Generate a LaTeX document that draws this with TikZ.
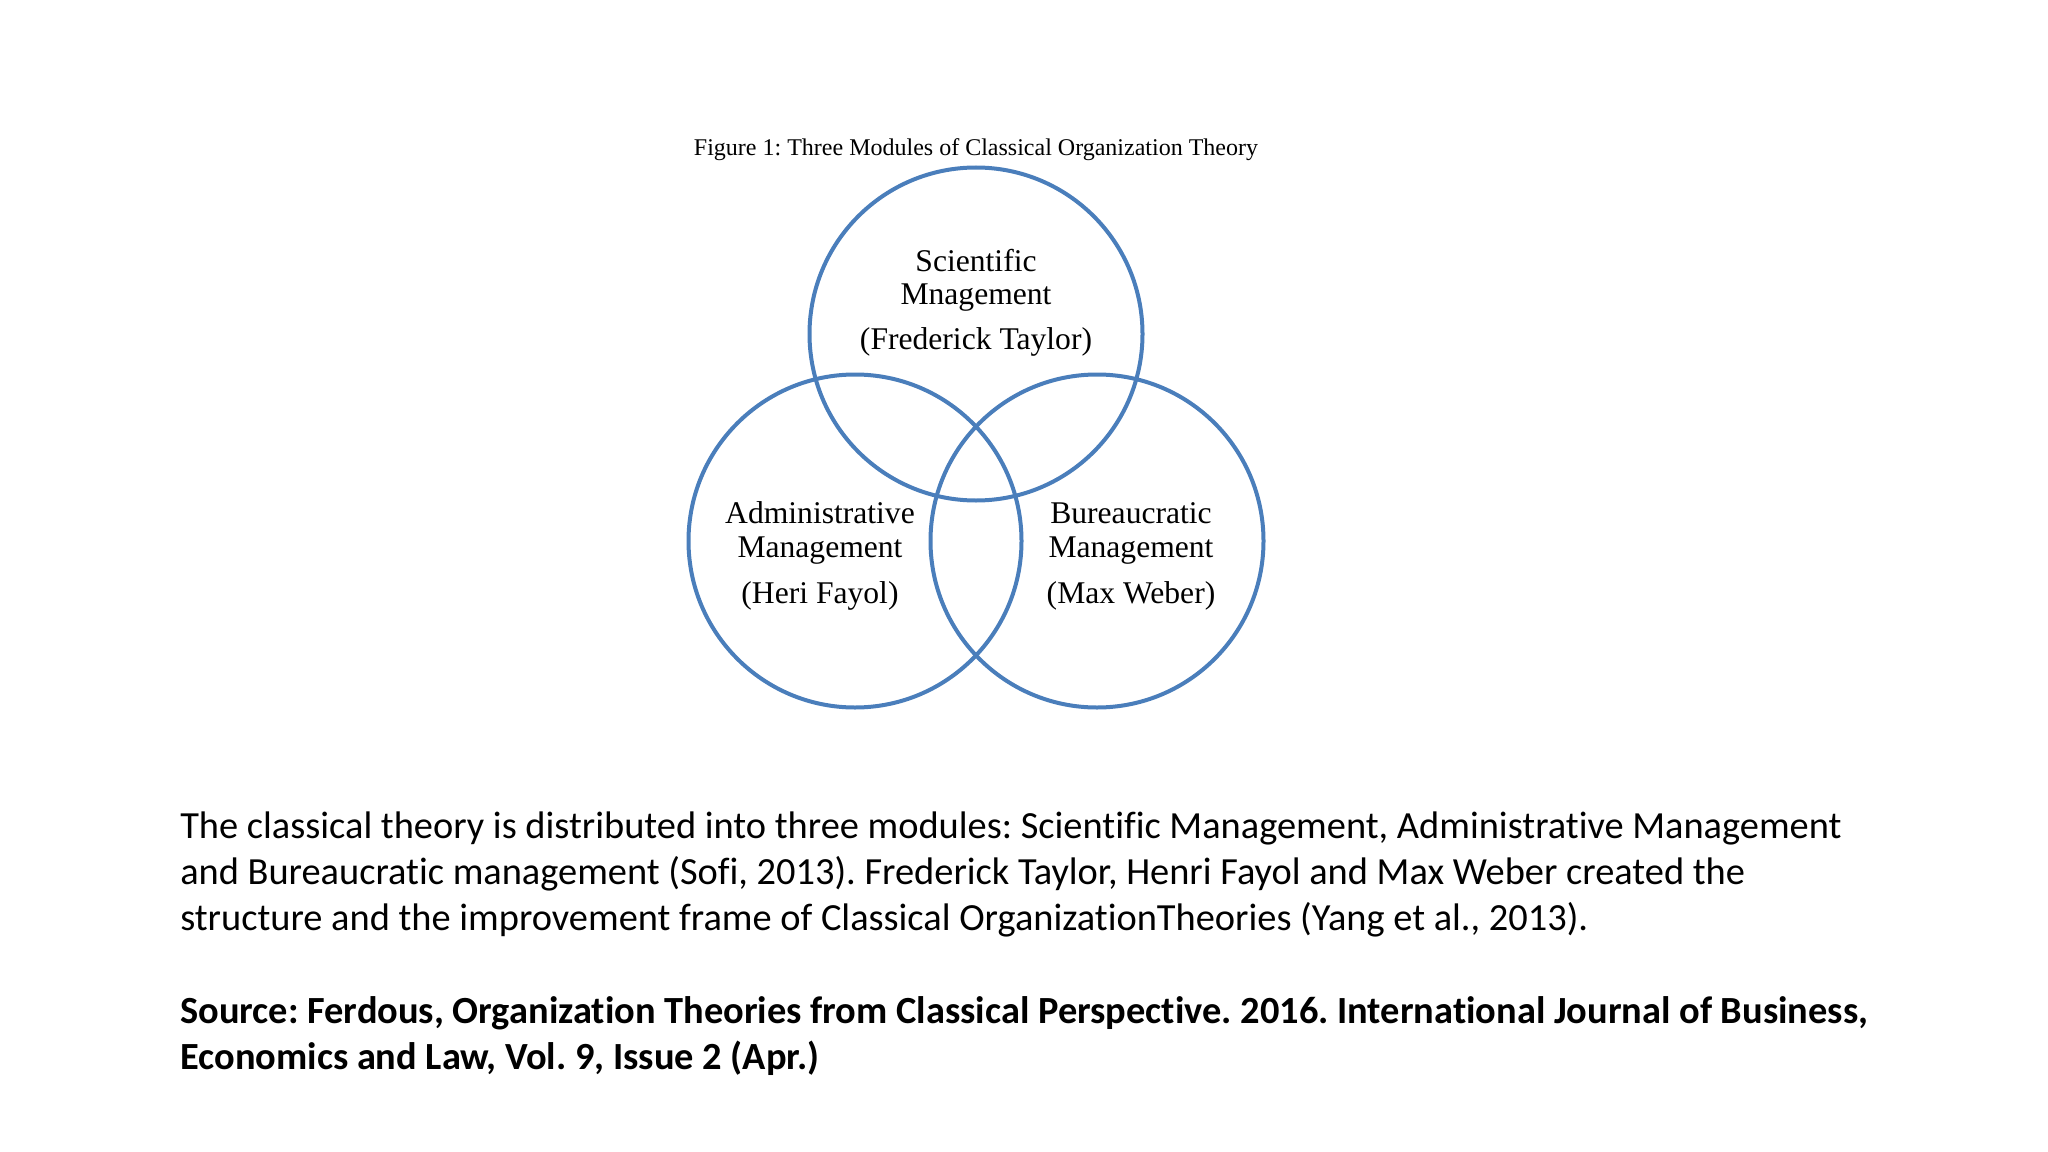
\documentclass[tikz,border=0pt]{standalone}
\usepackage{fontspec}
\setmainfont{Liberation Serif}
\newfontfamily\bodyfont[Ligatures={NoCommon}]{Carlito}
\definecolor{vennblue}{RGB}{74,126,187}
\frenchspacing
\begin{document}
\begin{tikzpicture}[x=0.75pt,y=-0.75pt,
  venn/.style={circle,draw=vennblue,line width=3pt,minimum size=249.75pt,inner sep=0pt},
  lab/.style={anchor=base,inner sep=0pt,font=\fontsize{23.7}{26}\selectfont},
  ttl/.style={anchor=base,inner sep=0pt,font=\fontsize{18}{20}\selectfont},
  body/.style={anchor=base west,inner sep=0pt,font=\bodyfont\fontsize{28.8}{34.5}\selectfont},
  bodyb/.style={body,font=\bodyfont\bfseries\fontsize{28.8}{34.5}\selectfont}]
\useasboundingbox[fill=white] (0,0) rectangle (2048,1152);
\node[ttl] (title) at (976,156) {Figure 1: Three Modules of Classical Organization Theory};
\node[venn] (top) at (976,334) {};
\node[venn] (left) at (855,541) {};
\node[venn] (right) at (1097,541) {};
\node[lab] (t1) at (976,271) {Scientific};
\node[lab] (t2) at (976,304) {Mnagement};
\node[lab] (t3) at (976,349) {(Frederick Taylor)};
\node[lab] (l1) at (820,523) {Administrative};
\node[lab] (l2) at (820,557) {Management};
\node[lab] (l3) at (820,603) {(Heri Fayol)};
\node[lab] (r1) at (1131,523) {Bureaucratic};
\node[lab] (r2) at (1131,557) {Management};
\node[lab] (r3) at (1131,603) {(Max Weber)};
\node[body] (p1) at (180,838) {The classical theory is distributed into three modules: Scientific Management, Administrative Management};
\node[body] (p2) at (180,884) {and Bureaucratic management (Sofi, 2013). Frederick Taylor, Henri Fayol and Max Weber created the};
\node[body] (p3) at (180,930) {structure and the improvement frame of Classical OrganizationTheories (Yang et al., 2013).};
\node[bodyb] (s1) at (180,1023) {Source: Ferdous, Organization Theories from Classical Perspective. 2016. International Journal of Business,};
\node[bodyb] (s2) at (180,1069) {Economics and Law, Vol. 9, Issue 2 (Apr.)};
\end{tikzpicture}
\end{document}
